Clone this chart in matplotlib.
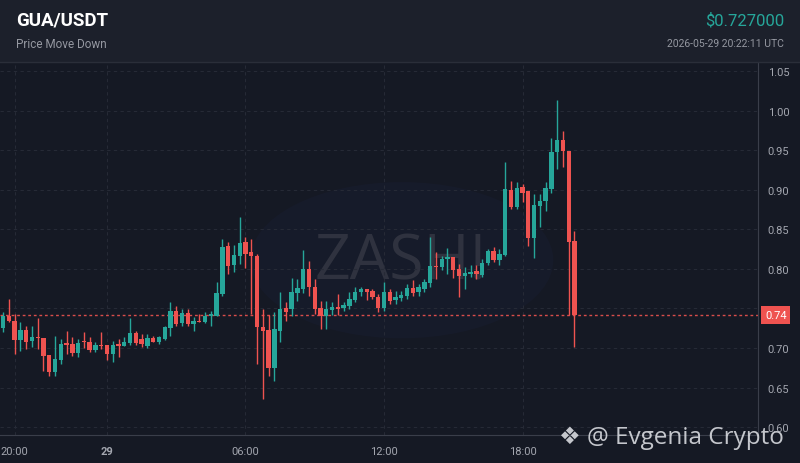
import matplotlib.pyplot as plt
import matplotlib.dates as mdates
from matplotlib.patches import Ellipse, Rectangle
import numpy as np
import pandas as pd

# 15 minute candles, GUA/USDT
times = pd.date_range('2026-05-28 19:30', periods=100, freq='15min')

opens = [0.7248, 0.7407, 0.7336, 0.7104, 0.7230, 0.7091, 0.7141, 0.7121, 0.6910, 0.6692,
         0.6847, 0.7058, 0.7049, 0.6936, 0.7091, 0.7078, 0.6977, 0.7040, 0.7037, 0.6923,
         0.7049, 0.7020, 0.7062, 0.7188, 0.7112, 0.7028, 0.7121, 0.7078, 0.7112, 0.7248,
         0.7470, 0.7315, 0.7441, 0.7302, 0.7340, 0.7331, 0.7400, 0.7407, 0.7681, 0.8292,
         0.8048, 0.8166, 0.8335, 0.8208, 0.8166, 0.7260, 0.7230, 0.6742, 0.7217, 0.7500,
         0.7492, 0.7694, 0.7744, 0.7997, 0.7766, 0.7500, 0.7407, 0.7483, 0.7513, 0.7500,
         0.7533, 0.7609, 0.7703, 0.7744, 0.7719, 0.7640, 0.7500, 0.7703, 0.7609, 0.7631,
         0.7660, 0.7753, 0.7703, 0.7744, 0.7816, 0.8039, 0.8026, 0.8124, 0.8145, 0.7997,
         0.7912, 0.7934, 0.7976, 0.7925, 0.8069, 0.8229, 0.8111, 0.8178, 0.8996, 0.8785,
         0.9030, 0.8979, 0.8389, 0.8790, 0.8853, 0.9008, 0.9472, 0.9628, 0.9493, 0.8355]
highs = [0.7457, 0.7618, 0.7428, 0.7324, 0.7281, 0.7281, 0.7374, 0.7121, 0.6910, 0.7154,
         0.7112, 0.7217, 0.7141, 0.7112, 0.7205, 0.7134, 0.7078, 0.7205, 0.7037, 0.7091,
         0.7112, 0.7134, 0.7374, 0.7217, 0.7176, 0.7176, 0.7154, 0.7154, 0.7281, 0.7584,
         0.7526, 0.7492, 0.7492, 0.7387, 0.7428, 0.7457, 0.7470, 0.7829, 0.8376, 0.8335,
         0.8301, 0.8651, 0.8398, 0.8376, 0.8187, 0.7492, 0.7416, 0.7450, 0.7703, 0.7580,
         0.7880, 0.7871, 0.8241, 0.8102, 0.7871, 0.7597, 0.7597, 0.7576, 0.7681, 0.7580,
         0.7703, 0.7766, 0.7766, 0.7750, 0.7744, 0.7681, 0.7829, 0.7744, 0.7723, 0.7723,
         0.7808, 0.7862, 0.7808, 0.7871, 0.8398, 0.8208, 0.8165, 0.8263, 0.8153, 0.8060,
         0.8019, 0.8052, 0.8052, 0.8124, 0.8250, 0.8271, 0.8250, 0.9346, 0.9106, 0.9093,
         0.9072, 0.8979, 0.8945, 0.8945, 0.9093, 0.9653, 1.0133, 0.9745, 0.9493, 0.8481]
lows = [0.7205, 0.7324, 0.6923, 0.6965, 0.6986, 0.7008, 0.6986, 0.6712, 0.6641, 0.6641,
        0.6796, 0.6923, 0.6901, 0.6881, 0.6995, 0.6944, 0.6944, 0.6986, 0.6851, 0.6818,
        0.6881, 0.7020, 0.7037, 0.7037, 0.7008, 0.6995, 0.7071, 0.7049, 0.7104, 0.7154,
        0.7273, 0.7273, 0.7281, 0.7217, 0.7324, 0.7315, 0.7281, 0.7399, 0.7652, 0.7934,
        0.7963, 0.8060, 0.8006, 0.7428, 0.6796, 0.6354, 0.6649, 0.6585, 0.7071, 0.7344,
        0.7399, 0.7597, 0.7694, 0.7660, 0.7428, 0.7239, 0.7239, 0.7416, 0.7416, 0.7466,
        0.7492, 0.7584, 0.7660, 0.7609, 0.7618, 0.7450, 0.7470, 0.7555, 0.7555, 0.7597,
        0.7618, 0.7660, 0.7660, 0.7706, 0.7766, 0.7871, 0.7985, 0.7934, 0.7883, 0.7647,
        0.7744, 0.7892, 0.7871, 0.7900, 0.8048, 0.8082, 0.8052, 0.8165, 0.8756, 0.8756,
        0.8840, 0.8292, 0.8136, 0.8532, 0.8727, 0.8954, 0.9261, 0.9290, 0.7416, 0.7015]
closes = [0.7407, 0.7336, 0.7104, 0.7230, 0.7071, 0.7134, 0.7121, 0.6901, 0.6699, 0.6860,
          0.7049, 0.7040, 0.6932, 0.7062, 0.7071, 0.6977, 0.7037, 0.7028, 0.6923, 0.7037,
          0.7028, 0.7078, 0.7188, 0.7062, 0.7049, 0.7121, 0.7078, 0.7134, 0.7260, 0.7470,
          0.7302, 0.7441, 0.7302, 0.7344, 0.7324, 0.7407, 0.7428, 0.7694, 0.8279, 0.8039,
          0.8174, 0.8322, 0.8187, 0.8158, 0.7260, 0.7217, 0.6742, 0.7239, 0.7492, 0.7457,
          0.7703, 0.7753, 0.7997, 0.7766, 0.7492, 0.7399, 0.7492, 0.7513, 0.7492, 0.7542,
          0.7618, 0.7710, 0.7744, 0.7710, 0.7640, 0.7500, 0.7710, 0.7597, 0.7640, 0.7672,
          0.7753, 0.7694, 0.7766, 0.7833, 0.8039, 0.8019, 0.8124, 0.8145, 0.7985, 0.7912,
          0.7943, 0.7955, 0.7934, 0.8069, 0.8229, 0.8111, 0.8187, 0.9008, 0.8777, 0.9021,
          0.8954, 0.8389, 0.8810, 0.8860, 0.9021, 0.9472, 0.9628, 0.9485, 0.8335, 0.7420]

y_ticks = [0.60, 0.65, 0.70, 0.75, 0.80, 0.85, 0.90, 0.95, 1.00, 1.05]
x_ticks = ['2026-05-28 20:00', '2026-05-29 00:00', '2026-05-29 06:00',
           '2026-05-29 12:00', '2026-05-29 18:00']
x_labels = ['20:00', '29', '06:00', '12:00', '18:00']

UP = '#26a69a'
DOWN = '#ef5350'
BG = '#151924'
HEADER = '#1c202b'
GRID = '#262a36'
TXT = '#a3a6af'

plt.rcParams['font.family'] = ['Roboto', 'DejaVu Sans']

fig = plt.figure(figsize=(8, 4.64), dpi=100, facecolor=BG)
ax = fig.add_axes([0, 0.0603, 0.9475, 0.8017])
ax.set_facecolor(BG)

# header band
fig.patches.append(Rectangle((0, 0.864), 1, 0.136, transform=fig.transFigure,
                             facecolor=HEADER, edgecolor='none', zorder=0))
fig.add_artist(plt.Line2D([0, 1], [0.864, 0.864], transform=fig.transFigure,
                          color='#2a2e39', lw=1))
fig.text(0.02, 0.955, 'GUA/USDT', color='white', fontsize=13.5, fontweight='bold',
         va='center', ha='left')
fig.text(0.02, 0.905, 'Price Move Down', color='#9598a1', fontsize=8.5,
         va='center', ha='left')
fig.text(0.98, 0.955, '$0.727000', color=UP, fontsize=12, va='center', ha='right')
fig.text(0.98, 0.905, '2026-05-29 20:22:11 UTC', color='#9598a1', fontsize=7.5,
         va='center', ha='right')

# faint watermark
ax.add_patch(Ellipse((0.53, 0.47), 0.40, 0.42, transform=ax.transAxes,
                     facecolor='#1a1f36', edgecolor='none', alpha=0.35, zorder=0))
ax.text(0.528, 0.465, 'ZASH!', transform=ax.transAxes, fontsize=45,
        color='#3a3d48', alpha=0.7, ha='center', va='center', zorder=0,
        family='Open Sans')

x = mdates.date2num(times)
o = np.array(opens)
h = np.array(highs)
l = np.array(lows)
c = np.array(closes)
colors = np.where(c >= o, UP, DOWN)
w = 0.75 / 96

ax.vlines(x, l, h, colors=colors, lw=1, zorder=3)
body = np.maximum(np.abs(c - o), 0.0012)
ax.bar(x, body, w, bottom=np.minimum(o, c), color=colors, zorder=4, linewidth=0)

# last price line
last = closes[-1]
ax.axhline(last, color=DOWN, lw=1, ls=(0, (2, 2)), zorder=2, alpha=0.9)

ax.set_ylim(0.590, 1.060)
ax.set_xlim(mdates.date2num(pd.Timestamp('2026-05-28 19:22')),
            mdates.date2num(pd.Timestamp('2026-05-30 04:12')))

ax.yaxis.tick_right()
ax.set_yticks(y_ticks)
# 0.75 sits under the price tag
ax.set_yticklabels(['' if abs(v - 0.75) < 1e-9 else '%.2f' % v for v in y_ticks])
ax.set_xticks(mdates.date2num(pd.to_datetime(x_ticks)))
ax.set_xticklabels(x_labels)
for lab in ax.get_xticklabels():
    if lab.get_text() == '29':
        lab.set_fontweight('bold')
ax.tick_params(axis='y', length=0, pad=7, labelsize=8, labelcolor=TXT)
ax.tick_params(axis='x', length=0, pad=8, labelsize=8, labelcolor=TXT)
ax.grid(True, color=GRID, ls=(0, (3, 3)), lw=0.8)
ax.set_axisbelow(True)
for s in ['top', 'left']:
    ax.spines[s].set_visible(False)
ax.spines['right'].set_color('#3a3e4a')
ax.spines['bottom'].set_color('#3a3e4a')

# price tag on the axis
ax.annotate('0.74', xy=(1, last), xycoords=('axes fraction', 'data'),
            xytext=(5, 0), textcoords='offset points', ha='left', va='center',
            fontsize=8, color='white', annotation_clip=False,
            bbox=dict(boxstyle='square,pad=0.35', fc=DOWN, ec='none'), zorder=10)

fig.text(0.98, 0.055, '\u2756 @ Evgenia Crypto', color='#d8dadf', fontsize=17.5,
         ha='right', va='center', family=['Open Sans', 'DejaVu Sans'], alpha=0.9)

fig.savefig('out.png', dpi=100, facecolor=fig.get_facecolor())
